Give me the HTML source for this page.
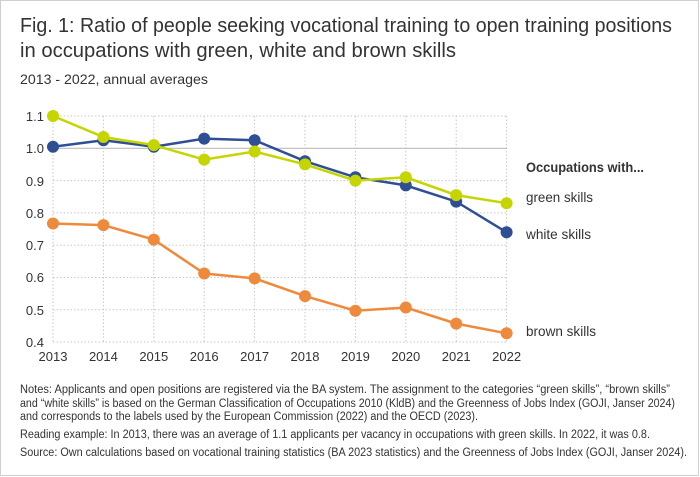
<!DOCTYPE html>
<html><head><meta charset="utf-8"><style>
html,body{margin:0;padding:0;background:#fff;}
svg{display:block;font-family:"Liberation Sans",sans-serif;}
</style></head><body>
<svg width="700" height="477" viewBox="0 0 700 477" xmlns="http://www.w3.org/2000/svg">
<rect x="0.5" y="0.5" width="698" height="475" fill="#fff" stroke="#cfcfcf"/>
<text x="20" y="32" font-size="20" fill="#333" textLength="652" lengthAdjust="spacingAndGlyphs">Fig. 1: Ratio of people seeking vocational training to open training positions</text>
<text x="20" y="57" font-size="20" fill="#333" textLength="436" lengthAdjust="spacingAndGlyphs">in occupations with green, white and brown skills</text>
<text x="20" y="84" font-size="14" fill="#333" textLength="188" lengthAdjust="spacingAndGlyphs">2013 - 2022, annual averages</text>
<g stroke="#c8c8c8" stroke-width="1" stroke-dasharray="1.5,2" fill="none">
<line x1="53" y1="116" x2="507" y2="116"/>
<line x1="53" y1="180.6" x2="507" y2="180.6"/>
<line x1="53" y1="212.9" x2="507" y2="212.9"/>
<line x1="53" y1="245.2" x2="507" y2="245.2"/>
<line x1="53" y1="277.5" x2="507" y2="277.5"/>
<line x1="53" y1="309.8" x2="507" y2="309.8"/>
<line x1="53" y1="342" x2="507" y2="342"/>
<line x1="53" y1="116" x2="53" y2="342"/>
<line x1="103.4" y1="116" x2="103.4" y2="342"/>
<line x1="153.8" y1="116" x2="153.8" y2="342"/>
<line x1="204.2" y1="116" x2="204.2" y2="342"/>
<line x1="254.6" y1="116" x2="254.6" y2="342"/>
<line x1="305" y1="116" x2="305" y2="342"/>
<line x1="355.4" y1="116" x2="355.4" y2="342"/>
<line x1="405.8" y1="116" x2="405.8" y2="342"/>
<line x1="456.2" y1="116" x2="456.2" y2="342"/>
<line x1="506.6" y1="116" x2="506.6" y2="342"/>
</g>
<line x1="53" y1="148.3" x2="507" y2="148.3" stroke="#bdbdbd" stroke-width="1.2"/>
<g font-size="13" fill="#333" text-anchor="end">
<text x="44" y="121">1.1</text><text x="44" y="153">1.0</text><text x="44" y="186">0.9</text>
<text x="44" y="218">0.8</text><text x="44" y="250">0.7</text><text x="44" y="282">0.6</text>
<text x="44" y="315">0.5</text><text x="44" y="347">0.4</text>
</g>
<g font-size="13" fill="#333" text-anchor="middle">
<text x="53" y="361">2013</text><text x="103.4" y="361">2014</text><text x="153.8" y="361">2015</text>
<text x="204.2" y="361">2016</text><text x="254.6" y="361">2017</text><text x="305" y="361">2018</text>
<text x="355.4" y="361">2019</text><text x="405.8" y="361">2020</text><text x="456.2" y="361">2021</text>
<text x="506.6" y="361">2022</text>
</g>
<!-- brown -->
<g fill="#ee8a3c" stroke="#ee8a3c">
<polyline fill="none" stroke-width="2.5" points="53,223.5 103.4,225.1 153.8,239.6 204.2,273.5 254.6,278.4 305,296.1 355.4,310.7 405.8,307.5 456.2,323.6 506.6,333.3"/>
<g stroke="none"><circle cx="53" cy="223.5" r="6"/><circle cx="103.4" cy="225.1" r="6"/><circle cx="153.8" cy="239.6" r="6"/><circle cx="204.2" cy="273.5" r="6"/><circle cx="254.6" cy="278.4" r="6"/><circle cx="305" cy="296.1" r="6"/><circle cx="355.4" cy="310.7" r="6"/><circle cx="405.8" cy="307.5" r="6"/><circle cx="456.2" cy="323.6" r="6"/><circle cx="506.6" cy="333.3" r="6"/></g>
</g>
<!-- white (blue) -->
<g fill="#2f4f94" stroke="#2f4f94">
<polyline fill="none" stroke-width="2.5" points="53,146.7 103.4,140.2 153.8,146.7 204.2,138.6 254.6,140.2 305,161.2 355.4,177.3 405.8,185.4 456.2,201.6 506.6,232.3"/>
<g stroke="none"><circle cx="53" cy="146.7" r="6"/><circle cx="103.4" cy="140.2" r="6"/><circle cx="153.8" cy="146.7" r="6"/><circle cx="204.2" cy="138.6" r="6"/><circle cx="254.6" cy="140.2" r="6"/><circle cx="305" cy="161.2" r="6"/><circle cx="355.4" cy="177.3" r="6"/><circle cx="405.8" cy="185.4" r="6"/><circle cx="456.2" cy="201.6" r="6"/><circle cx="506.6" cy="232.3" r="6"/></g>
</g>
<!-- green -->
<g fill="#c5d500" stroke="#c5d500">
<polyline fill="none" stroke-width="2.5" points="53,116 103.4,137 153.8,145.1 204.2,159.6 254.6,151.5 305,164.4 355.4,180.6 405.8,177.3 456.2,195.1 506.6,203.2"/>
<g stroke="none"><circle cx="53" cy="116" r="6"/><circle cx="103.4" cy="137" r="6"/><circle cx="153.8" cy="145.1" r="6"/><circle cx="204.2" cy="159.6" r="6"/><circle cx="254.6" cy="151.5" r="6"/><circle cx="305" cy="164.4" r="6"/><circle cx="355.4" cy="180.6" r="6"/><circle cx="405.8" cy="177.3" r="6"/><circle cx="456.2" cy="195.1" r="6"/><circle cx="506.6" cy="203.2" r="6"/></g>
</g>
<g font-size="14" fill="#333">
<text x="526" y="172" font-weight="bold" textLength="118" lengthAdjust="spacingAndGlyphs">Occupations with...</text>
<text x="526" y="202" textLength="67" lengthAdjust="spacingAndGlyphs">green skills</text>
<text x="526" y="239" textLength="65" lengthAdjust="spacingAndGlyphs">white skills</text>
<text x="526" y="336" textLength="70" lengthAdjust="spacingAndGlyphs">brown skills</text>
</g>
<g font-size="11.5" fill="#333">
<text x="20" y="393" textLength="650" lengthAdjust="spacingAndGlyphs">Notes: Applicants and open positions are registered via the BA system. The assignment to the categories “green skills”, “brown skills”</text>
<text x="20" y="407" textLength="655" lengthAdjust="spacingAndGlyphs">and “white skills” is based on the German Classification of Occupations 2010 (KldB) and the Greenness of Jobs Index (GOJI, Janser 2024)</text>
<text x="20" y="420" textLength="458" lengthAdjust="spacingAndGlyphs">and corresponds to the labels used by the European Commission (2022) and the OECD (2023).</text>
<text x="20" y="438" textLength="630" lengthAdjust="spacingAndGlyphs">Reading example: In 2013, there was an average of 1.1 applicants per vacancy in occupations with green skills. In 2022, it was 0.8.</text>
<text x="20" y="456" textLength="667" lengthAdjust="spacingAndGlyphs">Source: Own calculations based on vocational training statistics (BA 2023 statistics) and the Greenness of Jobs Index (GOJI, Janser 2024).</text>
</g>
</svg>
</body></html>
